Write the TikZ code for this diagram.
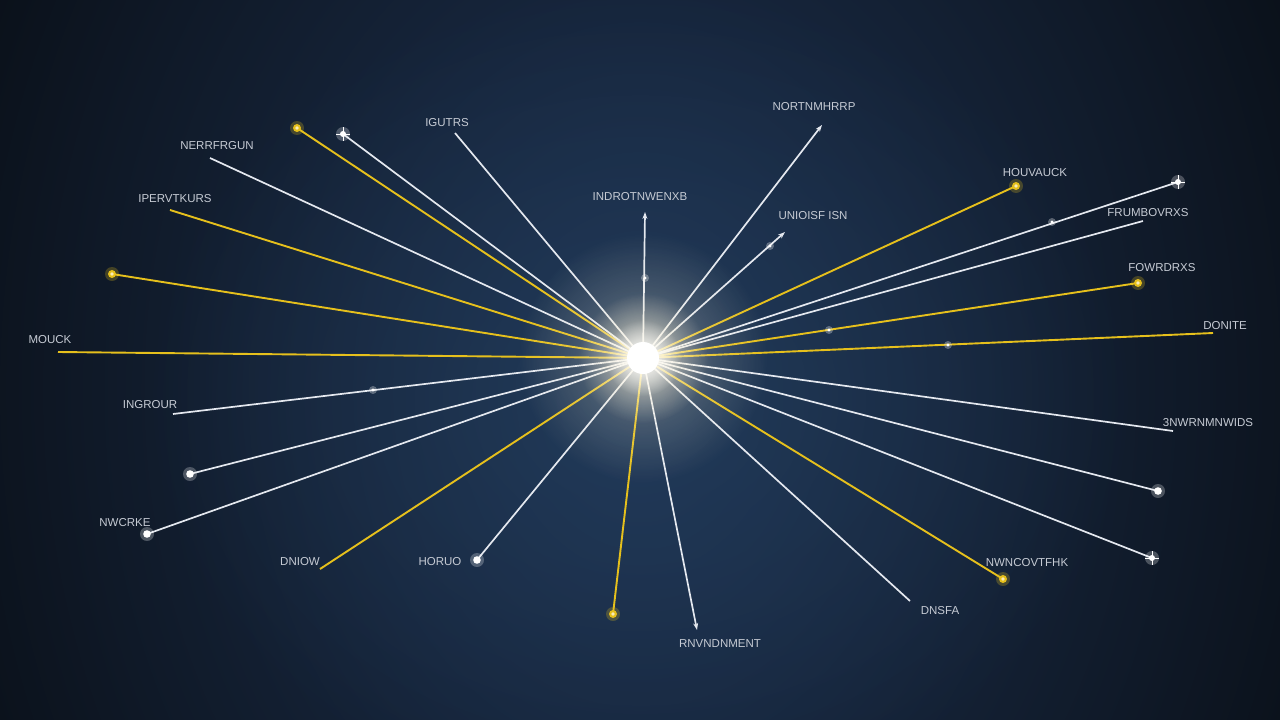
\documentclass[tikz,border=0pt]{standalone}
\usepackage{fontspec}
\setmainfont{Liberation Sans}
\usetikzlibrary{arrows.meta,fadings}
\definecolor{bgbase}{HTML}{090E15}
\definecolor{bglayer}{HTML}{1F3454}
\definecolor{bgcore}{HTML}{24405F}
\definecolor{raycol}{HTML}{E4E8EF}
\definecolor{gold}{HTML}{E6C01C}
\definecolor{lbl}{HTML}{C6CBD4}
\definecolor{glowcol}{HTML}{FFF6DC}
\tikzfading[name=glowfade, inner color=transparent!0, outer color=transparent!100]
\newcommand\ydotmark[1]{%
  \fill[gold, opacity=0.25] (#1) circle (7);
  \fill[gold] (#1) circle (4);
  \fill[white!70!gold] (#1) circle (1.8);}
\newcommand\wdotmark[1]{%
  \fill[white, opacity=0.25] (#1) circle (7);
  \fill[white] (#1) circle (3.8);}
\newcommand\starmark[1]{%
  \fill[white, opacity=0.25] (#1) circle (7);
  \fill[white] (#1) circle (3);
  \draw[white, line width=0.8pt] ([xshift=-7pt]#1) -- ([xshift=7pt]#1) ([yshift=-7pt]#1) -- ([yshift=7pt]#1);}
\newcommand\sparkmark[1]{%
  \fill[white, opacity=0.3] (#1) circle (4);
  \fill[white] (#1) circle (1.6);}
\begin{document}
\begin{tikzpicture}[x=1pt,y=-1pt,
  wray/.style={draw=raycol, line width=1.7pt},
  yray/.style={draw=gold, line width=1.9pt},
  arr/.style={-{Stealth[length=7pt,width=5pt]}},
  lab/.style={text=lbl, font=\fontsize{11.5}{12}\selectfont, inner sep=0pt}]
\useasboundingbox (0,0) rectangle (1280,720);
\begin{scope}
\clip (0,0) rectangle (1280,720);
\fill[bgbase] (0,0) rectangle (1280,720);
\fill[bglayer, path fading=glowfade] (640,390) ellipse (780 and 1000);
\fill[bgcore, opacity=0.6, path fading=glowfade] (640,400) ellipse (500 and 420);
\end{scope}

\coordinate (c) at (643,358);
% endpoints
\coordinate (e1) at (297,128);
\coordinate (e2) at (343,134);
\coordinate (e3) at (455,133);
\coordinate (e4) at (210,158);
\coordinate (e5) at (170,210);
\coordinate (e6) at (112,274);
\coordinate (e7) at (58,352);
\coordinate (e8) at (173,414);
\coordinate (e9) at (190,474);
\coordinate (e10) at (147,534);
\coordinate (e11) at (320,569);
\coordinate (e12) at (477,560);
\coordinate (e13) at (613,614);
\coordinate (e14) at (697,630);
\coordinate (e15) at (910,601);
\coordinate (e16) at (1003,579);
\coordinate (e17) at (1152,558);
\coordinate (e18) at (1158,491);
\coordinate (e19) at (1173,431);
\coordinate (e20) at (1213,333);
\coordinate (e21) at (1138,283);
\coordinate (e22) at (1143,221);
\coordinate (e23) at (1178,182);
\coordinate (e24) at (1016,186);
\coordinate (e25) at (785,232);
\coordinate (e26) at (822,125);
\coordinate (e27) at (645,212);

% rays
\foreach \e in {e1,e5,e6,e7,e11,e13,e16,e20,e21,e24} {\draw[yray] (c) -- (\e);}
\foreach \e in {e2,e3,e4,e8,e9,e10,e12,e15,e17,e18,e19,e22,e23} {\draw[wray] (c) -- (\e);}
\foreach \e in {e14,e25,e26,e27} {\draw[wray,arr] (c) -- (\e);}

% end marks
\foreach \e in {e1,e6,e13,e16,e21,e24} {\ydotmark{\e}}
\foreach \e in {e9,e10,e12,e18} {\wdotmark{\e}}
\foreach \e in {e2,e17,e23} {\starmark{\e}}

% sparkles on rays
\coordinate (s1) at (1052,222);
\coordinate (s2) at (770,246);
\coordinate (s3) at (829,330);
\coordinate (s4) at (645,278);
\coordinate (s5) at (948,345);
\coordinate (s6) at (373,390);
\foreach \s in {s1,s2,s3,s4,s5,s6} {\sparkmark{\s}}

% central glow
\fill[glowcol, opacity=0.35, path fading=glowfade] (c) circle (125);
\fill[glowcol, opacity=0.75, path fading=glowfade] (c) circle (65);
\fill[white, opacity=0.95, path fading=glowfade] (c) circle (38);
\fill[white] (c) circle (16);

% labels
\node[lab] (l3) at (447,123) {IGUTRS};
\node[lab] (l4) at (217,146) {NERRFRGUN};
\node[lab] (l5) at (175,199) {IPERVTKURS};
\node[lab] (l7) at (50,340) {MOUCK};
\node[lab] (l8) at (150,405) {INGROUR};
\node[lab] (l10) at (125,523) {NWCRKE};
\node[lab] (l11) at (300,562) {DNIOW};
\node[lab] (l12) at (440,562) {HORUO};
\node[lab] (l14) at (720,644) {RNVNDNMENT};
\node[lab] (l15) at (940,611) {DNSFA};
\node[lab] (l16) at (1027,563) {NWNCOVTFHK};
\node[lab] (l19) at (1208,423) {3NWRNMNWIDS};
\node[lab] (l20) at (1225,326) {DONITE};
\node[lab] (l21) at (1162,268) {FOWRDRXS};
\node[lab] (l22) at (1148,213) {FRUMBOVRXS};
\node[lab] (l24) at (1035,173) {HOUVAUCK};
\node[lab] (l25) at (813,216) {UNIOISF ISN};
\node[lab] (l26) at (814,107) {NORTNMHRRP};
\node[lab] (l27) at (640,197) {INDROTNWENXB};
\end{tikzpicture}
\end{document}
